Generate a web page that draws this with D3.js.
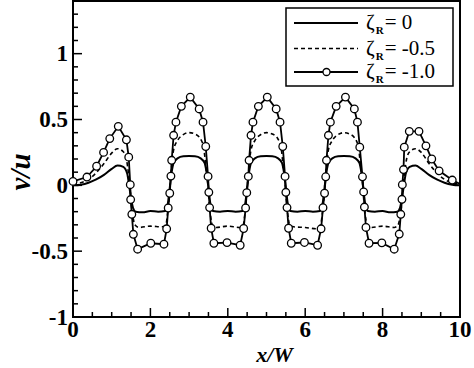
<!DOCTYPE html>
<html><head><meta charset="utf-8">
<script src="https://cdn.jsdelivr.net/npm/d3@7"></script>
<style>body{margin:0;background:#fff}svg{display:block}</style>
</head><body>
<script>
// ---- data ----
const seriesNames = ["0", "-0.5", "-1.0"];
const xTicks = [0, 2, 4, 6, 8, 10];
const yTicks = [-1, -0.5, 0, 0.5, 1];
const yTickLabels = ["-1", "-0.5", "0", "0.5", "1"];

// ζR = 0 (solid)
const solidX = [0,0.2,0.4,0.6,0.8,1.0,1.15,1.3,1.4,1.45,1.5,1.55,1.62,1.8,2.0,2.2,2.38,2.45,2.5,2.55,2.6,2.7,2.85,3.0,3.15,3.3,3.4,3.45,3.5,3.55,3.62,3.8,4.0,4.2,4.38,4.45,4.5,4.55,4.6,4.7,4.85,5.0,5.15,5.3,5.4,5.45,5.5,5.55,5.62,5.8,6.0,6.2,6.38,6.45,6.5,6.55,6.6,6.7,6.85,7.0,7.15,7.3,7.4,7.45,7.5,7.55,7.62,7.8,8.0,8.2,8.38,8.45,8.5,8.55,8.6,8.7,8.85,9.0,9.2,9.4,9.6,9.8,10];
const solidY = [0,0.005,0.02,0.045,0.08,0.125,0.15,0.14,0.09,0.0,-0.1,-0.17,-0.2,-0.205,-0.195,-0.2,-0.195,-0.14,-0.02,0.1,0.17,0.205,0.22,0.222,0.22,0.205,0.17,0.1,-0.02,-0.14,-0.195,-0.2,-0.195,-0.2,-0.195,-0.14,-0.02,0.1,0.17,0.205,0.22,0.222,0.22,0.205,0.17,0.1,-0.02,-0.14,-0.195,-0.2,-0.195,-0.2,-0.195,-0.14,-0.02,0.1,0.17,0.205,0.22,0.222,0.22,0.205,0.17,0.1,-0.02,-0.14,-0.195,-0.2,-0.195,-0.205,-0.2,-0.17,-0.1,0.0,0.09,0.14,0.15,0.125,0.08,0.045,0.02,0.005,0];

// ζR = -0.5 (dashed)
const dashX = [0,0.2,0.4,0.6,0.8,1.0,1.15,1.3,1.38,1.43,1.47,1.5,1.55,1.6,1.7,2.0,2.3,2.4,2.44,2.48,2.51,2.55,2.6,2.7,2.85,3.0,3.15,3.3,3.38,3.43,3.48,3.51,3.55,3.6,3.7,4.0,4.3,4.4,4.44,4.48,4.51,4.55,4.6,4.7,4.85,5.0,5.15,5.3,5.38,5.43,5.48,5.51,5.55,5.6,5.7,6.0,6.3,6.4,6.44,6.48,6.51,6.55,6.6,6.7,6.85,7.0,7.15,7.3,7.38,7.43,7.48,7.51,7.55,7.6,7.7,8.0,8.3,8.4,8.45,8.5,8.53,8.57,8.62,8.7,8.85,9.0,9.2,9.4,9.6,9.8,10];
const dashY = [0.01,0.02,0.045,0.095,0.165,0.245,0.278,0.255,0.2,0.1,0.0,-0.12,-0.24,-0.3,-0.32,-0.31,-0.315,-0.3,-0.22,-0.1,0.02,0.15,0.27,0.34,0.385,0.4,0.39,0.35,0.28,0.15,0.02,-0.1,-0.22,-0.3,-0.32,-0.31,-0.32,-0.3,-0.22,-0.1,0.02,0.15,0.27,0.34,0.385,0.4,0.39,0.35,0.28,0.15,0.02,-0.1,-0.22,-0.3,-0.315,-0.32,-0.33,-0.3,-0.22,-0.1,0.02,0.15,0.27,0.34,0.385,0.4,0.39,0.35,0.28,0.15,0.02,-0.1,-0.22,-0.3,-0.32,-0.31,-0.32,-0.3,-0.24,-0.12,0.0,0.1,0.2,0.255,0.278,0.25,0.165,0.095,0.045,0.02,0.01];

// ζR = -1.0 (line with circles)
const circX = [0.00,0.36,0.61,0.79,0.95,1.17,1.38,1.44,1.48,1.49,1.52,1.56,1.67,2.01,2.35,2.42,2.46,2.50,2.53,2.55,2.60,2.66,2.80,3.03,3.26,3.36,3.43,3.49,3.51,3.53,3.57,3.64,3.98,4.32,4.41,4.46,4.49,4.53,4.55,4.60,4.65,4.79,5.02,5.25,5.35,5.42,5.48,5.50,5.53,5.57,5.64,5.98,6.32,6.41,6.46,6.50,6.53,6.55,6.60,6.65,6.80,7.04,7.27,7.35,7.41,7.48,7.51,7.53,7.57,7.65,7.98,8.30,8.43,8.47,8.50,8.51,8.54,8.56,8.69,8.94,9.12,9.27,9.46,9.80,10];
const circY = [0.03,0.063,0.145,0.25,0.355,0.448,0.346,0.214,0.005,-0.108,-0.22,-0.372,-0.485,-0.44,-0.447,-0.33,-0.172,-0.06,0.07,0.19,0.38,0.48,0.60,0.67,0.58,0.48,0.295,0.068,-0.053,-0.169,-0.326,-0.44,-0.435,-0.455,-0.328,-0.172,-0.056,0.068,0.19,0.38,0.48,0.60,0.67,0.58,0.48,0.295,0.068,-0.053,-0.169,-0.326,-0.44,-0.434,-0.455,-0.33,-0.17,-0.06,0.065,0.19,0.38,0.48,0.60,0.67,0.58,0.48,0.29,0.065,-0.05,-0.165,-0.32,-0.44,-0.437,-0.485,-0.37,-0.22,-0.106,0.005,0.12,0.29,0.41,0.41,0.30,0.20,0.11,0.04,0.01];

// ---- layout ----
const W = 474, H = 368;
const L = 73, R = 460, T = 1, B = 317;
const svg = d3.select("body").append("svg").attr("width", W).attr("height", H);
const x = d3.scaleLinear().domain([0, 10]).range([L, R]);
const y = d3.scaleLinear().domain([-1, 1.4]).range([B, T]);

const serif = "'Liberation Serif','Times New Roman',Times,serif";

// ticks (inward)
const g = svg.append("g");
const xMinor = d3.range(0, 10.001, 0.5);
const yMinor = d3.range(-1, 1.401, 0.1);
g.selectAll(".xt").data(xMinor).enter().append("line")
  .attr("x1", d => x(d)).attr("x2", d => x(d))
  .attr("y1", B).attr("y2", d => B - (Math.abs(d / 2 - Math.round(d / 2)) < 1e-6 ? 9 : 5))
  .attr("stroke", "#000").attr("stroke-width", 1.5);
g.selectAll(".yt").data(yMinor).enter().append("line")
  .attr("y1", d => y(d)).attr("y2", d => y(d))
  .attr("x1", L).attr("x2", d => L + (Math.abs(d * 2 - Math.round(d * 2)) < 1e-6 ? 9 : 5))
  .attr("stroke", "#000").attr("stroke-width", 1.5);

// frame
svg.append("rect").attr("x", L).attr("y", T).attr("width", R - L).attr("height", B - T)
  .attr("fill", "none").attr("stroke", "#000").attr("stroke-width", 2);

// tick labels
svg.selectAll(".xl").data(xTicks).enter().append("text")
  .attr("x", d => x(d)).attr("y", 337).attr("text-anchor", "middle")
  .attr("font-family", serif).attr("font-weight", "bold").attr("font-size", 23)
  .text(d => d);
svg.selectAll(".yl").data(yTicks).enter().append("text")
  .attr("x", 68).attr("y", d => y(d) + 7.5).attr("text-anchor", "end")
  .attr("font-family", serif).attr("font-weight", "bold").attr("font-size", 23)
  .text((d, i) => yTickLabels[i]);

// axis titles
svg.append("text").attr("x", (L + R) / 2 + 8).attr("y", 362).attr("text-anchor", "middle")
  .attr("font-family", serif).attr("font-weight", "bold").attr("font-style", "italic").attr("font-size", 22)
  .text("x/W");
svg.append("text").attr("transform", "translate(30,172) rotate(-90)").attr("text-anchor", "middle")
  .attr("font-family", serif).attr("font-weight", "bold").attr("font-style", "italic").attr("font-size", 29)
  .text("v/u");

// curves
const clip = svg.append("clipPath").attr("id", "c").append("rect")
  .attr("x", L).attr("y", T).attr("width", R - L).attr("height", B - T);
const plot = svg.append("g").attr("clip-path", "url(#c)");
const lineS = d3.line().x(d => x(d[0])).y(d => y(d[1])).curve(d3.curveMonotoneX);
const lineL = d3.line().x(d => x(d[0])).y(d => y(d[1]));

const solid = solidX.map((v, i) => [v, solidY[i]]);
const dashed = dashX.map((v, i) => [v, dashY[i]]);
const circ = circX.map((v, i) => [v, circY[i]]);

plot.append("path").attr("d", lineS(solid)).attr("fill", "none").attr("stroke", "#000").attr("stroke-width", 2);
plot.append("path").attr("d", lineS(dashed)).attr("fill", "none").attr("stroke", "#000").attr("stroke-width", 1.6).attr("stroke-dasharray", "4,3");
plot.append("path").attr("d", lineL(circ)).attr("fill", "none").attr("stroke", "#000").attr("stroke-width", 1.8);
svg.selectAll(".mk").data(circ.filter(d => d[0] < 10)).enter().append("circle")
  .attr("cx", d => x(d[0])).attr("cy", d => y(d[1])).attr("r", 3.8)
  .attr("fill", "#fff").attr("stroke", "#000").attr("stroke-width", 1.3);

// legend
const lg = svg.append("g");
lg.append("rect").attr("x", 286).attr("y", 8).attr("width", 167).attr("height", 78)
  .attr("fill", "#fff").attr("stroke", "#000").attr("stroke-width", 1.5);
const rowsY = [23, 48.5, 72];
const styles = [
  {w: 2, dash: null, mk: false},
  {w: 1.6, dash: "4,3", mk: false},
  {w: 1.8, dash: null, mk: true}
];
seriesNames.forEach((name, i) => {
  const ry = rowsY[i];
  const ln = lg.append("line").attr("x1", 294).attr("x2", 358).attr("y1", ry).attr("y2", ry)
    .attr("stroke", "#000").attr("stroke-width", styles[i].w);
  if (styles[i].dash) ln.attr("stroke-dasharray", styles[i].dash);
  if (styles[i].mk) lg.append("circle").attr("cx", 326.5).attr("cy", ry).attr("r", 3.5)
    .attr("fill", "#fff").attr("stroke", "#000").attr("stroke-width", 1.3);
  const t = lg.append("text").attr("x", 366).attr("y", ry + 6)
    .attr("font-family", serif).attr("font-size", 21);
  t.append("tspan").text("ζ");
  t.append("tspan").attr("font-size", 11).attr("font-weight", "bold").attr("dy", 5).attr("dx", 1).text("R");
  t.append("tspan").attr("dy", -5).attr("dx", 1).text("= " + name);
});
</script>
</body></html>
